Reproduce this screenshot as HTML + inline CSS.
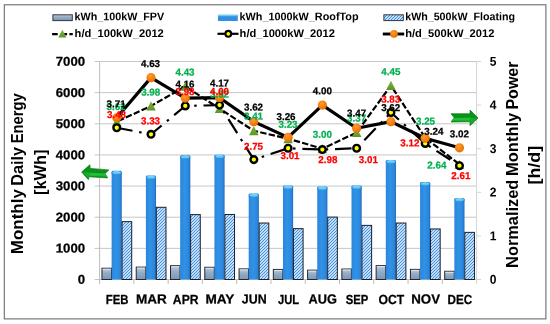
<!DOCTYPE html>
<html lang="en">
<head>
<meta charset="utf-8">
<title>Monthly Daily Energy and Normalized Monthly Power</title>
<style>
html,body{margin:0;padding:0;background:#fff;}
body{width:550px;height:324px;overflow:hidden;font-family:"Liberation Sans",sans-serif;}
svg{display:block;}
</style>
</head>
<body>
<svg width="550" height="324" viewBox="0 0 550 324">
<defs>
<linearGradient id="gGray" x1="0" y1="0" x2="0" y2="1"><stop offset="0" stop-color="#bccddf"/><stop offset="0.45" stop-color="#94abc5"/><stop offset="1" stop-color="#7d97b6"/></linearGradient>
<linearGradient id="gBlue" x1="0" y1="0" x2="1" y2="0"><stop offset="0" stop-color="#2a86dc"/><stop offset="0.45" stop-color="#3192e6"/><stop offset="0.85" stop-color="#2a86dc"/><stop offset="1" stop-color="#1c66b4"/></linearGradient>
<linearGradient id="gCap" x1="0" y1="0" x2="0" y2="1"><stop offset="0" stop-color="#84e0fb"/><stop offset="1" stop-color="#52baf1"/></linearGradient>
<pattern id="hatch" width="3" height="3" patternUnits="userSpaceOnUse"><rect width="3" height="3" fill="#fff"/><path d="M-1,1 L1,-1 M-1,4 L4,-1 M2,4 L4,2" stroke="#378ce8" stroke-width="1.12"/></pattern>
<radialGradient id="gOr" cx="0.42" cy="0.35" r="0.65"><stop offset="0" stop-color="#ff9c2c"/><stop offset="0.55" stop-color="#f68212"/><stop offset="1" stop-color="#e26d08"/></radialGradient>
<linearGradient id="gTri" x1="0" y1="0" x2="0" y2="1"><stop offset="0" stop-color="#7db53a"/><stop offset="1" stop-color="#5c9624"/></linearGradient>
<linearGradient id="gArr" x1="0" y1="0" x2="0" y2="1"><stop offset="0" stop-color="#0a8f14"/><stop offset="0.35" stop-color="#1fae2c"/><stop offset="0.6" stop-color="#35c845"/><stop offset="1" stop-color="#0b8c16"/></linearGradient>
<linearGradient id="gBand" x1="0" y1="0" x2="0" y2="1"><stop offset="0" stop-color="#18b02c"/><stop offset="0.5" stop-color="#26c43c"/><stop offset="1" stop-color="#14a426"/></linearGradient>
</defs>
<rect x="0" y="0" width="550" height="324" fill="#fff"/>
<rect x="4.3" y="4.8" width="541.6" height="314.1" fill="#fff" stroke="#6c6c6c" stroke-width="1.1"/>
<line x1="94.6" y1="279.50" x2="476.6" y2="279.50" stroke="#c6c6c6" stroke-width="1"/>
<line x1="94.6" y1="248.36" x2="476.6" y2="248.36" stroke="#c6c6c6" stroke-width="1"/>
<line x1="94.6" y1="217.21" x2="476.6" y2="217.21" stroke="#c6c6c6" stroke-width="1"/>
<line x1="94.6" y1="186.07" x2="476.6" y2="186.07" stroke="#c6c6c6" stroke-width="1"/>
<line x1="94.6" y1="154.93" x2="476.6" y2="154.93" stroke="#c6c6c6" stroke-width="1"/>
<line x1="94.6" y1="123.79" x2="476.6" y2="123.79" stroke="#c6c6c6" stroke-width="1"/>
<line x1="94.6" y1="92.64" x2="476.6" y2="92.64" stroke="#c6c6c6" stroke-width="1"/>
<line x1="94.6" y1="61.50" x2="476.6" y2="61.50" stroke="#c6c6c6" stroke-width="1"/>
<line x1="99.6" y1="61.5" x2="99.6" y2="284.0" stroke="#bdbdbd" stroke-width="1"/>
<line x1="476.6" y1="61.5" x2="476.6" y2="284.0" stroke="#d4d4d4" stroke-width="1"/>
<line x1="476.6" y1="279.50" x2="481.1" y2="279.50" stroke="#d4d4d4" stroke-width="1"/>
<line x1="476.6" y1="235.90" x2="481.1" y2="235.90" stroke="#d4d4d4" stroke-width="1"/>
<line x1="476.6" y1="192.30" x2="481.1" y2="192.30" stroke="#d4d4d4" stroke-width="1"/>
<line x1="476.6" y1="148.70" x2="481.1" y2="148.70" stroke="#d4d4d4" stroke-width="1"/>
<line x1="476.6" y1="105.10" x2="481.1" y2="105.10" stroke="#d4d4d4" stroke-width="1"/>
<line x1="476.6" y1="61.50" x2="481.1" y2="61.50" stroke="#d4d4d4" stroke-width="1"/>
<line x1="133.87" y1="279.5" x2="133.87" y2="284.0" stroke="#bcbcbc" stroke-width="1"/>
<line x1="168.15" y1="279.5" x2="168.15" y2="284.0" stroke="#bcbcbc" stroke-width="1"/>
<line x1="202.42" y1="279.5" x2="202.42" y2="284.0" stroke="#bcbcbc" stroke-width="1"/>
<line x1="236.69" y1="279.5" x2="236.69" y2="284.0" stroke="#bcbcbc" stroke-width="1"/>
<line x1="270.96" y1="279.5" x2="270.96" y2="284.0" stroke="#bcbcbc" stroke-width="1"/>
<line x1="305.24" y1="279.5" x2="305.24" y2="284.0" stroke="#bcbcbc" stroke-width="1"/>
<line x1="339.51" y1="279.5" x2="339.51" y2="284.0" stroke="#bcbcbc" stroke-width="1"/>
<line x1="373.78" y1="279.5" x2="373.78" y2="284.0" stroke="#bcbcbc" stroke-width="1"/>
<line x1="408.05" y1="279.5" x2="408.05" y2="284.0" stroke="#bcbcbc" stroke-width="1"/>
<line x1="442.33" y1="279.5" x2="442.33" y2="284.0" stroke="#bcbcbc" stroke-width="1"/>
<rect x="101.96" y="268.23" width="9.55" height="11.27" fill="url(#gGray)" stroke="#24282d" stroke-width="1"/>
<line x1="102.66" y1="269.23" x2="110.71" y2="269.23" stroke="#e4edf5" stroke-width="0.9"/>
<rect x="111.61" y="171.87" width="10.15" height="107.63" fill="url(#gBlue)"/>
<path d="M111.61,174.07 L111.61,172.27 Q111.61,170.87 113.21,170.87 L120.16,170.87 Q121.76,170.87 121.76,172.27 L121.76,174.07 Z" fill="#2a86dc"/>
<ellipse cx="116.69" cy="172.57" rx="4.28" ry="1.6" fill="url(#gCap)"/>
<rect x="122.06" y="221.63" width="9.65" height="57.87" fill="url(#hatch)" stroke="#1b1f25" stroke-width="1"/>
<rect x="136.23" y="267.11" width="9.55" height="12.39" fill="url(#gGray)" stroke="#24282d" stroke-width="1"/>
<line x1="136.93" y1="268.11" x2="144.98" y2="268.11" stroke="#e4edf5" stroke-width="0.9"/>
<rect x="145.88" y="176.54" width="10.15" height="102.96" fill="url(#gBlue)"/>
<path d="M145.88,178.74 L145.88,176.94 Q145.88,175.54 147.48,175.54 L154.43,175.54 Q156.03,175.54 156.03,176.94 L156.03,178.74 Z" fill="#2a86dc"/>
<ellipse cx="150.96" cy="177.24" rx="4.28" ry="1.6" fill="url(#gCap)"/>
<rect x="156.33" y="207.30" width="9.65" height="72.20" fill="url(#hatch)" stroke="#1b1f25" stroke-width="1"/>
<rect x="170.51" y="265.70" width="9.55" height="13.80" fill="url(#gGray)" stroke="#24282d" stroke-width="1"/>
<line x1="171.21" y1="266.70" x2="179.26" y2="266.70" stroke="#e4edf5" stroke-width="0.9"/>
<rect x="180.16" y="156.30" width="10.15" height="123.20" fill="url(#gBlue)"/>
<path d="M180.16,158.50 L180.16,156.70 Q180.16,155.30 181.76,155.30 L188.71,155.30 Q190.31,155.30 190.31,156.70 L190.31,158.50 Z" fill="#2a86dc"/>
<ellipse cx="185.23" cy="157.00" rx="4.28" ry="1.6" fill="url(#gCap)"/>
<rect x="190.61" y="214.62" width="9.65" height="64.88" fill="url(#hatch)" stroke="#1b1f25" stroke-width="1"/>
<rect x="204.78" y="267.29" width="9.55" height="12.21" fill="url(#gGray)" stroke="#24282d" stroke-width="1"/>
<line x1="205.48" y1="268.29" x2="213.53" y2="268.29" stroke="#e4edf5" stroke-width="0.9"/>
<rect x="214.43" y="155.68" width="10.15" height="123.82" fill="url(#gBlue)"/>
<path d="M214.43,157.88 L214.43,156.08 Q214.43,154.68 216.03,154.68 L222.98,154.68 Q224.58,154.68 224.58,156.08 L224.58,157.88 Z" fill="#2a86dc"/>
<ellipse cx="219.50" cy="156.38" rx="4.28" ry="1.6" fill="url(#gCap)"/>
<rect x="224.88" y="214.47" width="9.65" height="65.03" fill="url(#hatch)" stroke="#1b1f25" stroke-width="1"/>
<rect x="239.05" y="268.88" width="9.55" height="10.62" fill="url(#gGray)" stroke="#24282d" stroke-width="1"/>
<line x1="239.75" y1="269.88" x2="247.80" y2="269.88" stroke="#e4edf5" stroke-width="0.9"/>
<rect x="248.70" y="194.61" width="10.15" height="84.89" fill="url(#gBlue)"/>
<path d="M248.70,196.81 L248.70,195.01 Q248.70,193.61 250.30,193.61 L257.25,193.61 Q258.85,193.61 258.85,195.01 L258.85,196.81 Z" fill="#2a86dc"/>
<ellipse cx="253.78" cy="195.31" rx="4.28" ry="1.6" fill="url(#gCap)"/>
<rect x="259.15" y="223.03" width="9.65" height="56.47" fill="url(#hatch)" stroke="#1b1f25" stroke-width="1"/>
<rect x="273.33" y="269.44" width="9.55" height="10.06" fill="url(#gGray)" stroke="#24282d" stroke-width="1"/>
<line x1="274.03" y1="270.44" x2="282.08" y2="270.44" stroke="#e4edf5" stroke-width="0.9"/>
<rect x="282.98" y="186.51" width="10.15" height="92.99" fill="url(#gBlue)"/>
<path d="M282.98,188.71 L282.98,186.91 Q282.98,185.51 284.58,185.51 L291.52,185.51 Q293.12,185.51 293.12,186.91 L293.12,188.71 Z" fill="#2a86dc"/>
<ellipse cx="288.05" cy="187.21" rx="4.28" ry="1.6" fill="url(#gCap)"/>
<rect x="293.43" y="228.64" width="9.65" height="50.86" fill="url(#hatch)" stroke="#1b1f25" stroke-width="1"/>
<rect x="307.60" y="270.16" width="9.55" height="9.34" fill="url(#gGray)" stroke="#24282d" stroke-width="1"/>
<line x1="308.30" y1="271.16" x2="316.35" y2="271.16" stroke="#e4edf5" stroke-width="0.9"/>
<rect x="317.25" y="187.44" width="10.15" height="92.06" fill="url(#gBlue)"/>
<path d="M317.25,189.64 L317.25,187.84 Q317.25,186.44 318.85,186.44 L325.80,186.44 Q327.40,186.44 327.40,187.84 L327.40,189.64 Z" fill="#2a86dc"/>
<ellipse cx="322.32" cy="188.14" rx="4.28" ry="1.6" fill="url(#gCap)"/>
<rect x="327.70" y="217.11" width="9.65" height="62.39" fill="url(#hatch)" stroke="#1b1f25" stroke-width="1"/>
<rect x="341.87" y="269.00" width="9.55" height="10.50" fill="url(#gGray)" stroke="#24282d" stroke-width="1"/>
<line x1="342.57" y1="270.00" x2="350.62" y2="270.00" stroke="#e4edf5" stroke-width="0.9"/>
<rect x="351.52" y="186.51" width="10.15" height="92.99" fill="url(#gBlue)"/>
<path d="M351.52,188.71 L351.52,186.91 Q351.52,185.51 353.12,185.51 L360.07,185.51 Q361.67,185.51 361.67,186.91 L361.67,188.71 Z" fill="#2a86dc"/>
<ellipse cx="356.60" cy="187.21" rx="4.28" ry="1.6" fill="url(#gCap)"/>
<rect x="361.97" y="225.37" width="9.65" height="54.13" fill="url(#hatch)" stroke="#1b1f25" stroke-width="1"/>
<rect x="376.14" y="265.64" width="9.55" height="13.86" fill="url(#gGray)" stroke="#24282d" stroke-width="1"/>
<line x1="376.84" y1="266.64" x2="384.89" y2="266.64" stroke="#e4edf5" stroke-width="0.9"/>
<rect x="385.79" y="160.97" width="10.15" height="118.53" fill="url(#gBlue)"/>
<path d="M385.79,163.17 L385.79,161.37 Q385.79,159.97 387.39,159.97 L394.34,159.97 Q395.94,159.97 395.94,161.37 L395.94,163.17 Z" fill="#2a86dc"/>
<ellipse cx="390.87" cy="161.67" rx="4.28" ry="1.6" fill="url(#gCap)"/>
<rect x="396.24" y="223.03" width="9.65" height="56.47" fill="url(#hatch)" stroke="#1b1f25" stroke-width="1"/>
<rect x="410.42" y="269.38" width="9.55" height="10.12" fill="url(#gGray)" stroke="#24282d" stroke-width="1"/>
<line x1="411.12" y1="270.38" x2="419.17" y2="270.38" stroke="#e4edf5" stroke-width="0.9"/>
<rect x="420.07" y="183.08" width="10.15" height="96.42" fill="url(#gBlue)"/>
<path d="M420.07,185.28 L420.07,183.48 Q420.07,182.08 421.67,182.08 L428.62,182.08 Q430.22,182.08 430.22,183.48 L430.22,185.28 Z" fill="#2a86dc"/>
<ellipse cx="425.14" cy="183.78" rx="4.28" ry="1.6" fill="url(#gCap)"/>
<rect x="430.52" y="228.95" width="9.65" height="50.55" fill="url(#hatch)" stroke="#1b1f25" stroke-width="1"/>
<rect x="444.69" y="271.28" width="9.55" height="8.22" fill="url(#gGray)" stroke="#24282d" stroke-width="1"/>
<line x1="445.39" y1="272.28" x2="453.44" y2="272.28" stroke="#e4edf5" stroke-width="0.9"/>
<rect x="454.34" y="198.97" width="10.15" height="80.53" fill="url(#gBlue)"/>
<path d="M454.34,201.17 L454.34,199.37 Q454.34,197.97 455.94,197.97 L462.89,197.97 Q464.49,197.97 464.49,199.37 L464.49,201.17 Z" fill="#2a86dc"/>
<ellipse cx="459.41" cy="199.67" rx="4.28" ry="1.6" fill="url(#gCap)"/>
<rect x="464.79" y="232.37" width="9.65" height="47.13" fill="url(#hatch)" stroke="#1b1f25" stroke-width="1"/>
<polyline points="116.74,121.67 151.01,105.97 185.28,86.35 219.55,108.59 253.83,130.82 288.10,138.67 322.37,148.70 356.65,132.57 390.92,85.48 425.19,137.80 459.46,164.40" fill="none" stroke="#000" stroke-width="2.2" stroke-dasharray="6.4 2.235" stroke-dashoffset="-1.4"/>
<path d="M116.74,116.97 L121.49,126.17 L111.99,126.17 Z" fill="url(#gTri)"/>
<path d="M151.01,101.27 L155.76,110.47 L146.26,110.47 Z" fill="url(#gTri)"/>
<path d="M185.28,81.65 L190.03,90.85 L180.53,90.85 Z" fill="url(#gTri)"/>
<path d="M219.55,103.89 L224.30,113.09 L214.80,113.09 Z" fill="url(#gTri)"/>
<path d="M253.83,126.12 L258.58,135.32 L249.08,135.32 Z" fill="url(#gTri)"/>
<path d="M288.10,133.97 L292.85,143.17 L283.35,143.17 Z" fill="url(#gTri)"/>
<path d="M322.37,144.00 L327.12,153.20 L317.62,153.20 Z" fill="url(#gTri)"/>
<path d="M356.65,127.87 L361.40,137.07 L351.90,137.07 Z" fill="url(#gTri)"/>
<path d="M390.92,80.78 L395.67,89.98 L386.17,89.98 Z" fill="url(#gTri)"/>
<path d="M425.19,133.10 L429.94,142.30 L420.44,142.30 Z" fill="url(#gTri)"/>
<path d="M459.46,159.70 L464.21,168.90 L454.71,168.90 Z" fill="url(#gTri)"/>
<polyline points="116.74,127.77 151.01,134.31 185.28,105.97 219.55,105.10 253.83,159.60 288.10,148.26 322.37,149.57 356.65,148.26 390.92,112.51 425.19,143.47 459.46,165.70" fill="none" stroke="#000" stroke-width="2.2" stroke-dasharray="16.5 6.85 2.5 6.85" stroke-dashoffset="0.5"/>
<circle cx="116.74" cy="127.77" r="3.35" fill="#ffff00" stroke="#000" stroke-width="2.4"/>
<circle cx="151.01" cy="134.31" r="3.35" fill="#ffff00" stroke="#000" stroke-width="2.4"/>
<circle cx="185.28" cy="105.97" r="3.35" fill="#ffff00" stroke="#000" stroke-width="2.4"/>
<circle cx="219.55" cy="105.10" r="3.35" fill="#ffff00" stroke="#000" stroke-width="2.4"/>
<circle cx="253.83" cy="159.60" r="3.35" fill="#ffff00" stroke="#000" stroke-width="2.4"/>
<circle cx="288.10" cy="148.26" r="3.35" fill="#ffff00" stroke="#000" stroke-width="2.4"/>
<circle cx="322.37" cy="149.57" r="3.35" fill="#ffff00" stroke="#000" stroke-width="2.4"/>
<circle cx="356.65" cy="148.26" r="3.35" fill="#ffff00" stroke="#000" stroke-width="2.4"/>
<circle cx="390.92" cy="112.51" r="3.35" fill="#ffff00" stroke="#000" stroke-width="2.4"/>
<circle cx="425.19" cy="143.47" r="3.35" fill="#ffff00" stroke="#000" stroke-width="2.4"/>
<circle cx="459.46" cy="165.70" r="3.35" fill="#ffff00" stroke="#000" stroke-width="2.4"/>
<polyline points="116.74,117.74 151.01,77.63 185.28,98.12 219.55,97.69 253.83,121.67 288.10,137.36 322.37,105.10 356.65,128.21 390.92,121.67 425.19,138.24 459.46,147.83" fill="none" stroke="#000" stroke-width="3.2" stroke-linejoin="round"/>
<circle cx="116.74" cy="117.74" r="4.6" fill="url(#gOr)"/>
<circle cx="151.01" cy="77.63" r="4.6" fill="url(#gOr)"/>
<circle cx="185.28" cy="98.12" r="4.6" fill="url(#gOr)"/>
<circle cx="219.55" cy="97.69" r="4.6" fill="url(#gOr)"/>
<circle cx="253.83" cy="121.67" r="4.6" fill="url(#gOr)"/>
<circle cx="288.10" cy="137.36" r="4.6" fill="url(#gOr)"/>
<circle cx="322.37" cy="105.10" r="4.6" fill="url(#gOr)"/>
<circle cx="356.65" cy="128.21" r="4.6" fill="url(#gOr)"/>
<circle cx="390.92" cy="121.67" r="4.6" fill="url(#gOr)"/>
<circle cx="425.19" cy="138.24" r="4.6" fill="url(#gOr)"/>
<circle cx="459.46" cy="147.83" r="4.6" fill="url(#gOr)"/>
<g font-family="Liberation Sans, sans-serif" font-weight="bold">
<text transform="translate(106.56,109.90) rotate(0.03)" font-size="9.9" fill="#00b050" text-anchor="start" textLength="19.08" lengthAdjust="spacingAndGlyphs" stroke="#00b050" stroke-width="0.25">3.62</text>
<text transform="translate(141.16,95.50) rotate(0.03)" font-size="9.9" fill="#00b050" text-anchor="start" textLength="19.08" lengthAdjust="spacingAndGlyphs" stroke="#00b050" stroke-width="0.25">3.98</text>
<text transform="translate(175.46,75.50) rotate(0.03)" font-size="9.9" fill="#00b050" text-anchor="start" textLength="19.08" lengthAdjust="spacingAndGlyphs" stroke="#00b050" stroke-width="0.25">4.43</text>
<text transform="translate(209.96,97.40) rotate(0.03)" font-size="9.9" fill="#00b050" text-anchor="start" textLength="19.08" lengthAdjust="spacingAndGlyphs" stroke="#00b050" stroke-width="0.25">3.92</text>
<text transform="translate(243.96,119.40) rotate(0.03)" font-size="9.9" fill="#00b050" text-anchor="start" textLength="19.08" lengthAdjust="spacingAndGlyphs" stroke="#00b050" stroke-width="0.25">3.41</text>
<text transform="translate(278.46,127.70) rotate(0.03)" font-size="9.9" fill="#00b050" text-anchor="start" textLength="19.08" lengthAdjust="spacingAndGlyphs" stroke="#00b050" stroke-width="0.25">3.23</text>
<text transform="translate(312.86,137.80) rotate(0.03)" font-size="9.9" fill="#00b050" text-anchor="start" textLength="19.08" lengthAdjust="spacingAndGlyphs" stroke="#00b050" stroke-width="0.25">3.00</text>
<text transform="translate(347.06,121.60) rotate(0.03)" font-size="9.9" fill="#00b050" text-anchor="start" textLength="19.08" lengthAdjust="spacingAndGlyphs" stroke="#00b050" stroke-width="0.25">3.37</text>
<text transform="translate(381.26,75.00) rotate(0.03)" font-size="9.9" fill="#00b050" text-anchor="start" textLength="19.08" lengthAdjust="spacingAndGlyphs" stroke="#00b050" stroke-width="0.25">4.45</text>
<text transform="translate(415.96,124.40) rotate(0.03)" font-size="9.9" fill="#00b050" text-anchor="start" textLength="19.08" lengthAdjust="spacingAndGlyphs" stroke="#00b050" stroke-width="0.25">3.25</text>
<text transform="translate(427.36,168.60) rotate(0.03)" font-size="9.9" fill="#00b050" text-anchor="start" textLength="19.08" lengthAdjust="spacingAndGlyphs" stroke="#00b050" stroke-width="0.25">2.64</text>
<text transform="translate(106.96,117.90) rotate(0.03)" font-size="9.9" fill="#ff0000" text-anchor="start" textLength="19.08" lengthAdjust="spacingAndGlyphs" stroke="#ff0000" stroke-width="0.25">3.48</text>
<text transform="translate(140.96,124.30) rotate(0.03)" font-size="9.9" fill="#ff0000" text-anchor="start" textLength="19.08" lengthAdjust="spacingAndGlyphs" stroke="#ff0000" stroke-width="0.25">3.33</text>
<text transform="translate(175.46,95.10) rotate(0.03)" font-size="9.9" fill="#ff0000" text-anchor="start" textLength="19.08" lengthAdjust="spacingAndGlyphs" stroke="#ff0000" stroke-width="0.25">3.98</text>
<text transform="translate(209.96,94.70) rotate(0.03)" font-size="9.9" fill="#ff0000" text-anchor="start" textLength="19.08" lengthAdjust="spacingAndGlyphs" stroke="#ff0000" stroke-width="0.25">4.00</text>
<text transform="translate(243.96,149.80) rotate(0.03)" font-size="9.9" fill="#ff0000" text-anchor="start" textLength="19.08" lengthAdjust="spacingAndGlyphs" stroke="#ff0000" stroke-width="0.25">2.75</text>
<text transform="translate(280.46,159.00) rotate(0.03)" font-size="9.9" fill="#ff0000" text-anchor="start" textLength="19.08" lengthAdjust="spacingAndGlyphs" stroke="#ff0000" stroke-width="0.25">3.01</text>
<text transform="translate(318.26,162.90) rotate(0.03)" font-size="9.9" fill="#ff0000" text-anchor="start" textLength="19.08" lengthAdjust="spacingAndGlyphs" stroke="#ff0000" stroke-width="0.25">2.98</text>
<text transform="translate(358.86,162.90) rotate(0.03)" font-size="9.9" fill="#ff0000" text-anchor="start" textLength="19.08" lengthAdjust="spacingAndGlyphs" stroke="#ff0000" stroke-width="0.25">3.01</text>
<text transform="translate(381.16,102.50) rotate(0.03)" font-size="9.9" fill="#ff0000" text-anchor="start" textLength="19.08" lengthAdjust="spacingAndGlyphs" stroke="#ff0000" stroke-width="0.25">3.83</text>
<text transform="translate(400.36,146.30) rotate(0.03)" font-size="9.9" fill="#ff0000" text-anchor="start" textLength="19.08" lengthAdjust="spacingAndGlyphs" stroke="#ff0000" stroke-width="0.25">3.12</text>
<text transform="translate(451.26,178.90) rotate(0.03)" font-size="9.9" fill="#ff0000" text-anchor="start" textLength="19.08" lengthAdjust="spacingAndGlyphs" stroke="#ff0000" stroke-width="0.25">2.61</text>
<text transform="translate(106.56,107.20) rotate(0.03)" font-size="9.9" fill="#000" text-anchor="start" textLength="19.08" lengthAdjust="spacingAndGlyphs" stroke="#000" stroke-width="0.25">3.71</text>
<text transform="translate(140.96,66.90) rotate(0.03)" font-size="9.9" fill="#000" text-anchor="start" textLength="19.08" lengthAdjust="spacingAndGlyphs" stroke="#000" stroke-width="0.25">4.63</text>
<text transform="translate(175.46,87.40) rotate(0.03)" font-size="9.9" fill="#000" text-anchor="start" textLength="19.08" lengthAdjust="spacingAndGlyphs" stroke="#000" stroke-width="0.25">4.16</text>
<text transform="translate(209.96,86.60) rotate(0.03)" font-size="9.9" fill="#000" text-anchor="start" textLength="19.08" lengthAdjust="spacingAndGlyphs" stroke="#000" stroke-width="0.25">4.17</text>
<text transform="translate(243.96,110.40) rotate(0.03)" font-size="9.9" fill="#000" text-anchor="start" textLength="19.08" lengthAdjust="spacingAndGlyphs" stroke="#000" stroke-width="0.25">3.62</text>
<text transform="translate(276.46,120.00) rotate(0.03)" font-size="9.9" fill="#000" text-anchor="start" textLength="19.08" lengthAdjust="spacingAndGlyphs" stroke="#000" stroke-width="0.25">3.26</text>
<text transform="translate(312.76,94.30) rotate(0.03)" font-size="9.9" fill="#000" text-anchor="start" textLength="19.08" lengthAdjust="spacingAndGlyphs" stroke="#000" stroke-width="0.25">4.00</text>
<text transform="translate(347.06,116.60) rotate(0.03)" font-size="9.9" fill="#000" text-anchor="start" textLength="19.08" lengthAdjust="spacingAndGlyphs" stroke="#000" stroke-width="0.25">3.47</text>
<text transform="translate(381.16,110.90) rotate(0.03)" font-size="9.9" fill="#000" text-anchor="start" textLength="19.08" lengthAdjust="spacingAndGlyphs" stroke="#000" stroke-width="0.25">3.62</text>
<text transform="translate(424.26,134.70) rotate(0.03)" font-size="9.9" fill="#000" text-anchor="start" textLength="19.08" lengthAdjust="spacingAndGlyphs" stroke="#000" stroke-width="0.25">3.24</text>
<text transform="translate(449.76,137.30) rotate(0.03)" font-size="9.9" fill="#000" text-anchor="start" textLength="19.08" lengthAdjust="spacingAndGlyphs" stroke="#000" stroke-width="0.25">3.02</text>
</g>
<polygon points="81.60,172.00 89.90,164.70 90.20,168.40 108.80,169.90 105.00,173.70 107.70,177.90 89.00,176.80 88.40,179.70" fill="#0b9019" stroke="#0a8417" stroke-width="0.7" stroke-linejoin="round"/>
<polygon points="89.50,172.40 105.60,173.60 107.00,176.90 89.30,175.80" fill="url(#gBand)"/>
<polygon points="82.60,172.30 89.50,172.40 89.30,175.80 88.60,178.30" fill="#19b52e" opacity="0.8"/>
<polygon points="478.10,117.90 470.00,110.00 470.00,113.70 451.00,113.70 454.30,117.90 451.00,122.00 470.00,121.80 470.00,125.70" fill="#0b9019" stroke="#0a8417" stroke-width="0.7" stroke-linejoin="round"/>
<polygon points="453.60,117.90 470.40,117.40 470.40,120.90 451.60,121.00" fill="url(#gBand)"/>
<polygon points="470.40,117.40 477.00,118.20 470.60,124.30 470.40,120.90" fill="#19b52e" opacity="0.8"/>
<g font-family="Liberation Sans, sans-serif" font-weight="bold">
<rect x="52.9" y="14.8" width="19.4" height="5.8" fill="url(#gGray)" stroke="#30363c" stroke-width="1"/>
<text transform="translate(74.60,20.30) rotate(0.03)" font-size="11.1" fill="#000" text-anchor="start" textLength="89.58" lengthAdjust="spacingAndGlyphs">kWh_100kW_FPV</text>
<rect x="218" y="14.8" width="19.8" height="6.2" fill="#3190e4"/>
<rect x="218" y="14.8" width="19.8" height="1.4" fill="#6fcaf5"/>
<text transform="translate(239.60,20.30) rotate(0.03)" font-size="11.1" fill="#000" text-anchor="start" textLength="118.98" lengthAdjust="spacingAndGlyphs">kWh_1000kW_RoofTop</text>
<rect x="383.9" y="14.8" width="19.4" height="5.8" fill="url(#hatch)" stroke="#30363c" stroke-width="1"/>
<text transform="translate(405.20,20.30) rotate(0.03)" font-size="11.1" fill="#000" text-anchor="start" textLength="109.78" lengthAdjust="spacingAndGlyphs">kWh_500kW_Floating</text>
<line x1="52.1" y1="34.099999999999994" x2="72.8" y2="34.099999999999994" stroke="#000" stroke-width="2.2" stroke-dasharray="5.6 3 6.4 2.3 6"/>
<path d="M62.4,29.699999999999996 L66.5,37.5 L58.3,37.5 Z" fill="url(#gTri)"/>
<text transform="translate(74.60,37.00) rotate(0.03)" font-size="11.1" fill="#000" text-anchor="start" textLength="89.20" lengthAdjust="spacingAndGlyphs">h/d_100kW_2012</text>
<line x1="217.5" y1="33.8" x2="238.5" y2="33.8" stroke="#000" stroke-width="2.2"/>
<circle cx="228.3" cy="33.8" r="2.9" fill="#ffff00" stroke="#000" stroke-width="2.1"/>
<text transform="translate(239.60,37.00) rotate(0.03)" font-size="11.1" fill="#000" text-anchor="start" textLength="95.28" lengthAdjust="spacingAndGlyphs">h/d_1000kW_2012</text>
<line x1="382.8" y1="34.0" x2="404.2" y2="34.0" stroke="#000" stroke-width="2.9"/>
<circle cx="394.0" cy="33.8" r="3.9" fill="url(#gOr)"/>
<text transform="translate(405.20,37.00) rotate(0.03)" font-size="11.1" fill="#000" text-anchor="start" textLength="89.20" lengthAdjust="spacingAndGlyphs">h/d_500kW_2012</text>
</g>
<g font-family="Liberation Sans, sans-serif" font-weight="bold">
<text transform="translate(77.75,283.75) rotate(0.03)" font-size="12.9" fill="#000" text-anchor="start" textLength="7.35" lengthAdjust="spacingAndGlyphs" stroke="#000" stroke-width="0.25">0</text>
<text transform="translate(55.70,252.61) rotate(0.03)" font-size="12.9" fill="#000" text-anchor="start" textLength="29.40" lengthAdjust="spacingAndGlyphs" stroke="#000" stroke-width="0.25">1000</text>
<text transform="translate(55.70,221.46) rotate(0.03)" font-size="12.9" fill="#000" text-anchor="start" textLength="29.40" lengthAdjust="spacingAndGlyphs" stroke="#000" stroke-width="0.25">2000</text>
<text transform="translate(55.70,190.32) rotate(0.03)" font-size="12.9" fill="#000" text-anchor="start" textLength="29.40" lengthAdjust="spacingAndGlyphs" stroke="#000" stroke-width="0.25">3000</text>
<text transform="translate(55.70,159.18) rotate(0.03)" font-size="12.9" fill="#000" text-anchor="start" textLength="29.40" lengthAdjust="spacingAndGlyphs" stroke="#000" stroke-width="0.25">4000</text>
<text transform="translate(55.70,128.04) rotate(0.03)" font-size="12.9" fill="#000" text-anchor="start" textLength="29.40" lengthAdjust="spacingAndGlyphs" stroke="#000" stroke-width="0.25">5000</text>
<text transform="translate(55.70,96.89) rotate(0.03)" font-size="12.9" fill="#000" text-anchor="start" textLength="29.40" lengthAdjust="spacingAndGlyphs" stroke="#000" stroke-width="0.25">6000</text>
<text transform="translate(55.70,65.75) rotate(0.03)" font-size="12.9" fill="#000" text-anchor="start" textLength="29.40" lengthAdjust="spacingAndGlyphs" stroke="#000" stroke-width="0.25">7000</text>
<text transform="translate(489.70,283.75) rotate(0.03)" font-size="12.9" fill="#000" text-anchor="start" textLength="6.70" lengthAdjust="spacingAndGlyphs">0</text>
<text transform="translate(489.70,240.15) rotate(0.03)" font-size="12.9" fill="#000" text-anchor="start" textLength="6.70" lengthAdjust="spacingAndGlyphs">1</text>
<text transform="translate(489.70,196.55) rotate(0.03)" font-size="12.9" fill="#000" text-anchor="start" textLength="6.70" lengthAdjust="spacingAndGlyphs">2</text>
<text transform="translate(489.70,152.95) rotate(0.03)" font-size="12.9" fill="#000" text-anchor="start" textLength="6.70" lengthAdjust="spacingAndGlyphs">3</text>
<text transform="translate(489.70,109.35) rotate(0.03)" font-size="12.9" fill="#000" text-anchor="start" textLength="6.70" lengthAdjust="spacingAndGlyphs">4</text>
<text transform="translate(489.70,65.75) rotate(0.03)" font-size="12.9" fill="#000" text-anchor="start" textLength="6.70" lengthAdjust="spacingAndGlyphs">5</text>
<text transform="translate(105.76,303.50) rotate(0.03)" font-size="13.2" fill="#000" text-anchor="start" textLength="22.76" lengthAdjust="spacingAndGlyphs" stroke="#000" stroke-width="0.25">FEB</text>
<text transform="translate(135.98,303.50) rotate(0.03)" font-size="13.2" fill="#000" text-anchor="start" textLength="30.85" lengthAdjust="spacingAndGlyphs" stroke="#000" stroke-width="0.25">MAR</text>
<text transform="translate(172.84,303.50) rotate(0.03)" font-size="13.2" fill="#000" text-anchor="start" textLength="25.69" lengthAdjust="spacingAndGlyphs" stroke="#000" stroke-width="0.25">APR</text>
<text transform="translate(205.47,303.50) rotate(0.03)" font-size="13.2" fill="#000" text-anchor="start" textLength="28.96" lengthAdjust="spacingAndGlyphs" stroke="#000" stroke-width="0.25">MAY</text>
<text transform="translate(241.83,303.50) rotate(0.03)" font-size="13.2" fill="#000" text-anchor="start" textLength="24.80" lengthAdjust="spacingAndGlyphs" stroke="#000" stroke-width="0.25">JUN</text>
<text transform="translate(277.88,303.50) rotate(0.03)" font-size="13.2" fill="#000" text-anchor="start" textLength="21.24" lengthAdjust="spacingAndGlyphs" stroke="#000" stroke-width="0.25">JUL</text>
<text transform="translate(308.59,303.50) rotate(0.03)" font-size="13.2" fill="#000" text-anchor="start" textLength="28.37" lengthAdjust="spacingAndGlyphs" stroke="#000" stroke-width="0.25">AUG</text>
<text transform="translate(345.78,303.50) rotate(0.03)" font-size="13.2" fill="#000" text-anchor="start" textLength="22.54" lengthAdjust="spacingAndGlyphs" stroke="#000" stroke-width="0.25">SEP</text>
<text transform="translate(378.44,303.50) rotate(0.03)" font-size="13.2" fill="#000" text-anchor="start" textLength="25.75" lengthAdjust="spacingAndGlyphs" stroke="#000" stroke-width="0.25">OCT</text>
<text transform="translate(411.18,303.50) rotate(0.03)" font-size="13.2" fill="#000" text-anchor="start" textLength="28.83" lengthAdjust="spacingAndGlyphs" stroke="#000" stroke-width="0.25">NOV</text>
<text transform="translate(447.54,303.50) rotate(0.03)" font-size="13.2" fill="#000" text-anchor="start" textLength="24.66" lengthAdjust="spacingAndGlyphs" stroke="#000" stroke-width="0.25">DEC</text>
<text transform="translate(23.30,254.25) rotate(-90)" font-size="15.7" textLength="65.10" lengthAdjust="spacingAndGlyphs">Monthly</text>
<text transform="translate(23.30,185.65) rotate(-90)" font-size="15.7" textLength="38.80" lengthAdjust="spacingAndGlyphs">Daily</text>
<text transform="translate(23.30,143.35) rotate(-90)" font-size="15.7" textLength="50.10" lengthAdjust="spacingAndGlyphs">Energy</text>
<text transform="translate(45.60,172.30) rotate(-90)" x="-22.70" y="0" font-size="16.0" textLength="45.40" lengthAdjust="spacingAndGlyphs">[kWh]</text>
<text transform="translate(517.90,267.95) rotate(-90)" font-size="15.7" textLength="88.30" lengthAdjust="spacingAndGlyphs">Normalized</text>
<text transform="translate(517.90,175.95) rotate(-90)" font-size="15.7" textLength="63.20" lengthAdjust="spacingAndGlyphs">Monthly</text>
<text transform="translate(517.90,109.55) rotate(-90)" font-size="15.7" textLength="48.00" lengthAdjust="spacingAndGlyphs">Power</text>
<text transform="translate(539.60,165.20) rotate(-90)" x="-19.30" y="0" font-size="16.0" textLength="38.60" lengthAdjust="spacingAndGlyphs">[h/d]</text>
</g>
</svg>
</body>
</html>
